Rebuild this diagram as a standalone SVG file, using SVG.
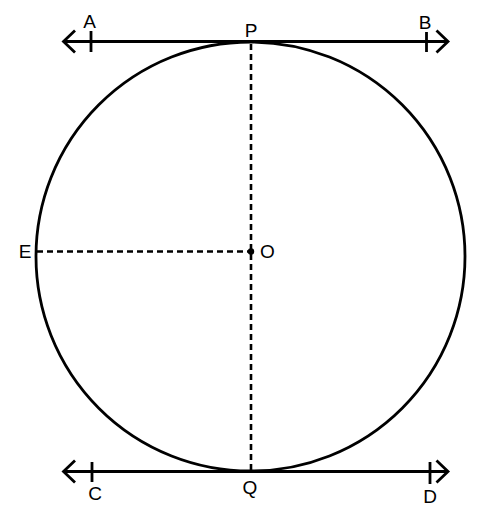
<svg xmlns="http://www.w3.org/2000/svg" width="498" height="522" viewBox="0 0 498 522">
<style>
.ln{stroke:#000;stroke-width:2.8;fill:none}
.ds{stroke:#000;stroke-width:2.6;fill:none;stroke-dasharray:6 4}
text{font-family:"Liberation Sans",Arial,sans-serif;font-size:19px;fill:#000;text-anchor:middle}
</style>
<rect width="498" height="522" fill="#fff"/>
<g id="circle"><circle class="ln" cx="250.5" cy="256.5" r="214.5"/></g>
<g id="connectors">
<line class="ln" x1="63" y1="41.5" x2="448" y2="41.5"/>
<polyline class="ln" points="75,30.5 63.5,41.5 75,52.5"/>
<polyline class="ln" points="436.5,30.5 448,41.5 436.5,52.5"/>
<line class="ln" x1="91" y1="31" x2="91" y2="52"/>
<line class="ln" x1="426.5" y1="32" x2="426.5" y2="52"/>
<line class="ln" x1="63" y1="471.5" x2="448" y2="471.5"/>
<polyline class="ln" points="75,460.5 63.5,471.5 75,482.5"/>
<polyline class="ln" points="436.5,460.5 448,471.5 436.5,482.5"/>
<line class="ln" x1="92" y1="462" x2="92" y2="482"/>
<line class="ln" x1="430" y1="462" x2="430" y2="484"/>
<line class="ds" x1="251" y1="44" x2="251" y2="470"/>
<line class="ds" x1="37" y1="251.5" x2="251" y2="251.5"/>
<circle cx="251" cy="251.5" r="3.2" fill="#000"/>
</g>
<g id="labels">
<text x="89.5" y="28">A</text>
<text x="251" y="37">P</text>
<text x="425" y="29">B</text>
<text x="25" y="258">E</text>
<text x="267.5" y="258">O</text>
<text x="95" y="500">C</text>
<text x="250" y="494">Q</text>
<text x="430" y="503">D</text>
</g>
</svg>
